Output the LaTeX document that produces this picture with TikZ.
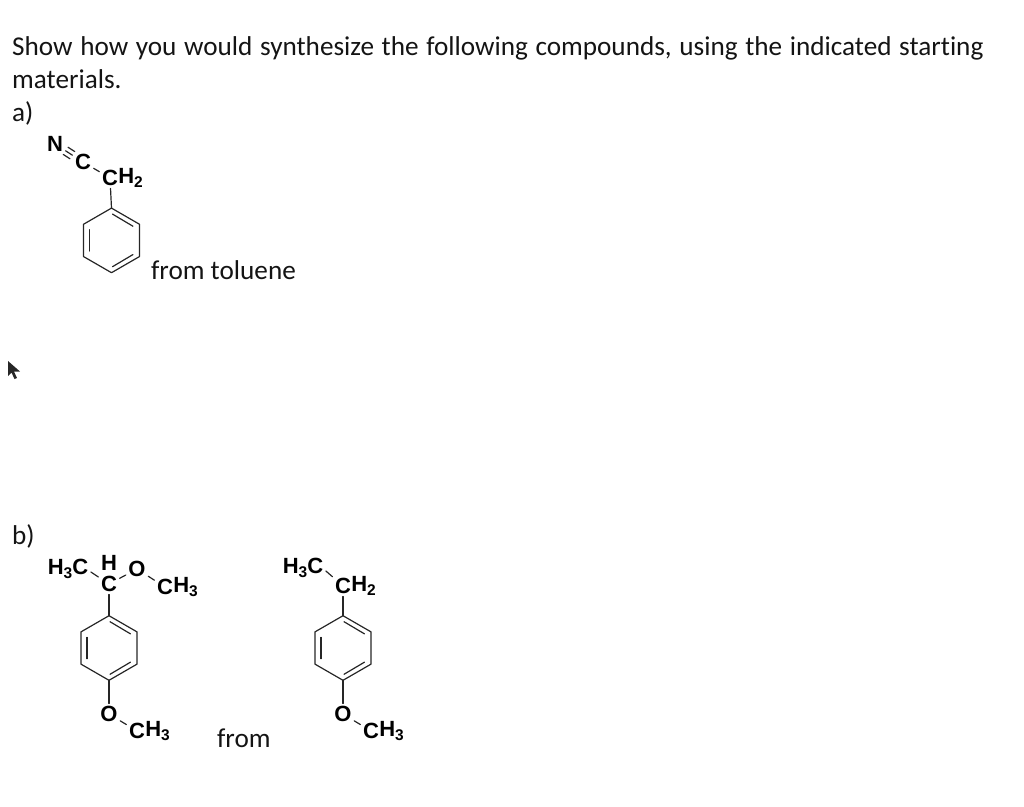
\documentclass[tikz,border=0pt]{standalone}
\usepackage{fontspec}
\setmainfont{Carlito}[Ligatures=NoCommon]
\newfontfamily\atomfont{Liberation Sans}
\usetikzlibrary{positioning,calc}
\newcommand{\dn}[1]{\raisebox{-3.5pt}{\fontsize{15.5}{15.5}\selectfont #1}}
% six corners named #1-1 to #1-6, clockwise from the top
\newcommand{\benzene}[3]{
    \foreach \i/\ang in {1/-90,2/-30,3/30,4/90,5/150,6/-150}
        \coordinate (#1-\i) at ([shift={(\ang:32.3)}]#2,#3);
    \draw[bond] (#1-1) -- (#1-2) -- (#1-3) -- (#1-4) -- (#1-5) -- (#1-6) -- cycle;
    % inner lines of the double bonds
    \draw[bond] ([shift={(6,5.5)}]#1-6) -- ([shift={(6,-5.5)}]#1-5);
    \draw[bond] ([shift={(1,6)}]#1-1) -- ([shift={(-6.5,2)}]#1-2);
    \draw[bond] ([shift={(1,-6)}]#1-4) -- ([shift={(-6.5,-2)}]#1-3);
}
\tikzset{
    bond/.style={line width=1.2pt, line cap=round, line join=round, black!85},
    atom/.style={font=\atomfont\bfseries\fontsize{22}{22}\selectfont, inner sep=2.5pt, black},
    sidetext/.style={atom, anchor=west, inner sep=0pt, xshift=-2.5pt},
    prose/.style={anchor=base west, inner sep=0pt, font=\fontsize{27.2}{27.2}\selectfont, black!92}
}
\begin{document}
\begin{tikzpicture}[x=1pt, y=-1pt]
    \useasboundingbox (0,0) rectangle (1024,806);

    % Question text
    \node[prose] (line1) at (12,55) {\spaceskip=7.65pt Show how you would synthesize the following compounds, using the indicated starting};
    \node[prose] (line2) at (12,88) {materials.};
    \node[prose] (parta) at (12,121) {a)};
    \node[prose] (fromtol) at (151,279) {from toluene};
    \node[prose] (partb) at (12,544) {b)};
    \node[prose] (fromb) at (217,747) {from};

    % Pointer
    \fill[black!85] (8,361) -- (8,376) -- (11.5,372.5) -- (14.5,379) -- (17,378) -- (14,371.5) -- (20,371.5) -- cycle;

    % Part a
    \benzene{ringa}{111.5}{240.4}
    \node[atom] (nita) at (55,144) {N};
    \node[atom] (cna) at (83,162) {C};
    \node[atom] (cha) at (110,178) {C};
    \node[sidetext] (hha) at (cha.east) {H\dn{2}};
    \draw[bond] (cna) -- (cha);
    \draw[bond] (cha) -- (ringa-1);
    \draw[bond] (nita) -- (cna);
    \draw[bond, transform canvas={shift={(2.4pt,3.6pt)}}] (nita) -- (cna);
    \draw[bond, transform canvas={shift={(-2.4pt,-3.6pt)}}] (nita) -- (cna);

    % Part b, left
    \benzene{ringb}{109}{648}
    \node[atom] (methb) at (68,569) {H\dn{3}C};
    \node[atom] (hb) at (109,563) {H};
    \node[atom] (cb) at (109,584) {C};
    \node[atom] (ob) at (137,569) {O};
    \node[atom] (cmb) at (165,587) {C};
    \node[sidetext] (hmb) at (cmb.east) {H\dn{3}};
    \node[atom] (olb) at (109,714) {O};
    \node[atom] (clb) at (137,731) {C};
    \node[sidetext] (hlb) at (clb.east) {H\dn{3}};
    \draw[bond] ([yshift=-3pt]methb.east) -- (cb);
    \draw[bond] (cb) -- (ob);
    \draw[bond] (ob) -- (cmb);
    \draw[bond] (cb) -- (ringb-1);
    \draw[bond] (ringb-4) -- (olb);
    \draw[bond] (olb) -- (clb);

    % Part b, right
    \benzene{ringc}{343}{648}
    \node[atom] (methc) at (303,568) {H\dn{3}C};
    \node[atom] (chc) at (343,586) {C};
    \node[sidetext] (hhc) at (chc.east) {H\dn{2}};
    \node[atom] (olc) at (343,714) {O};
    \node[atom] (clc) at (371,731) {C};
    \node[sidetext] (hlc) at (clc.east) {H\dn{3}};
    \draw[bond] ([yshift=-3pt]methc.east) -- (chc);
    \draw[bond] (chc) -- (ringc-1);
    \draw[bond] (ringc-4) -- (olc);
    \draw[bond] (olc) -- (clc);
\end{tikzpicture}
\end{document}
